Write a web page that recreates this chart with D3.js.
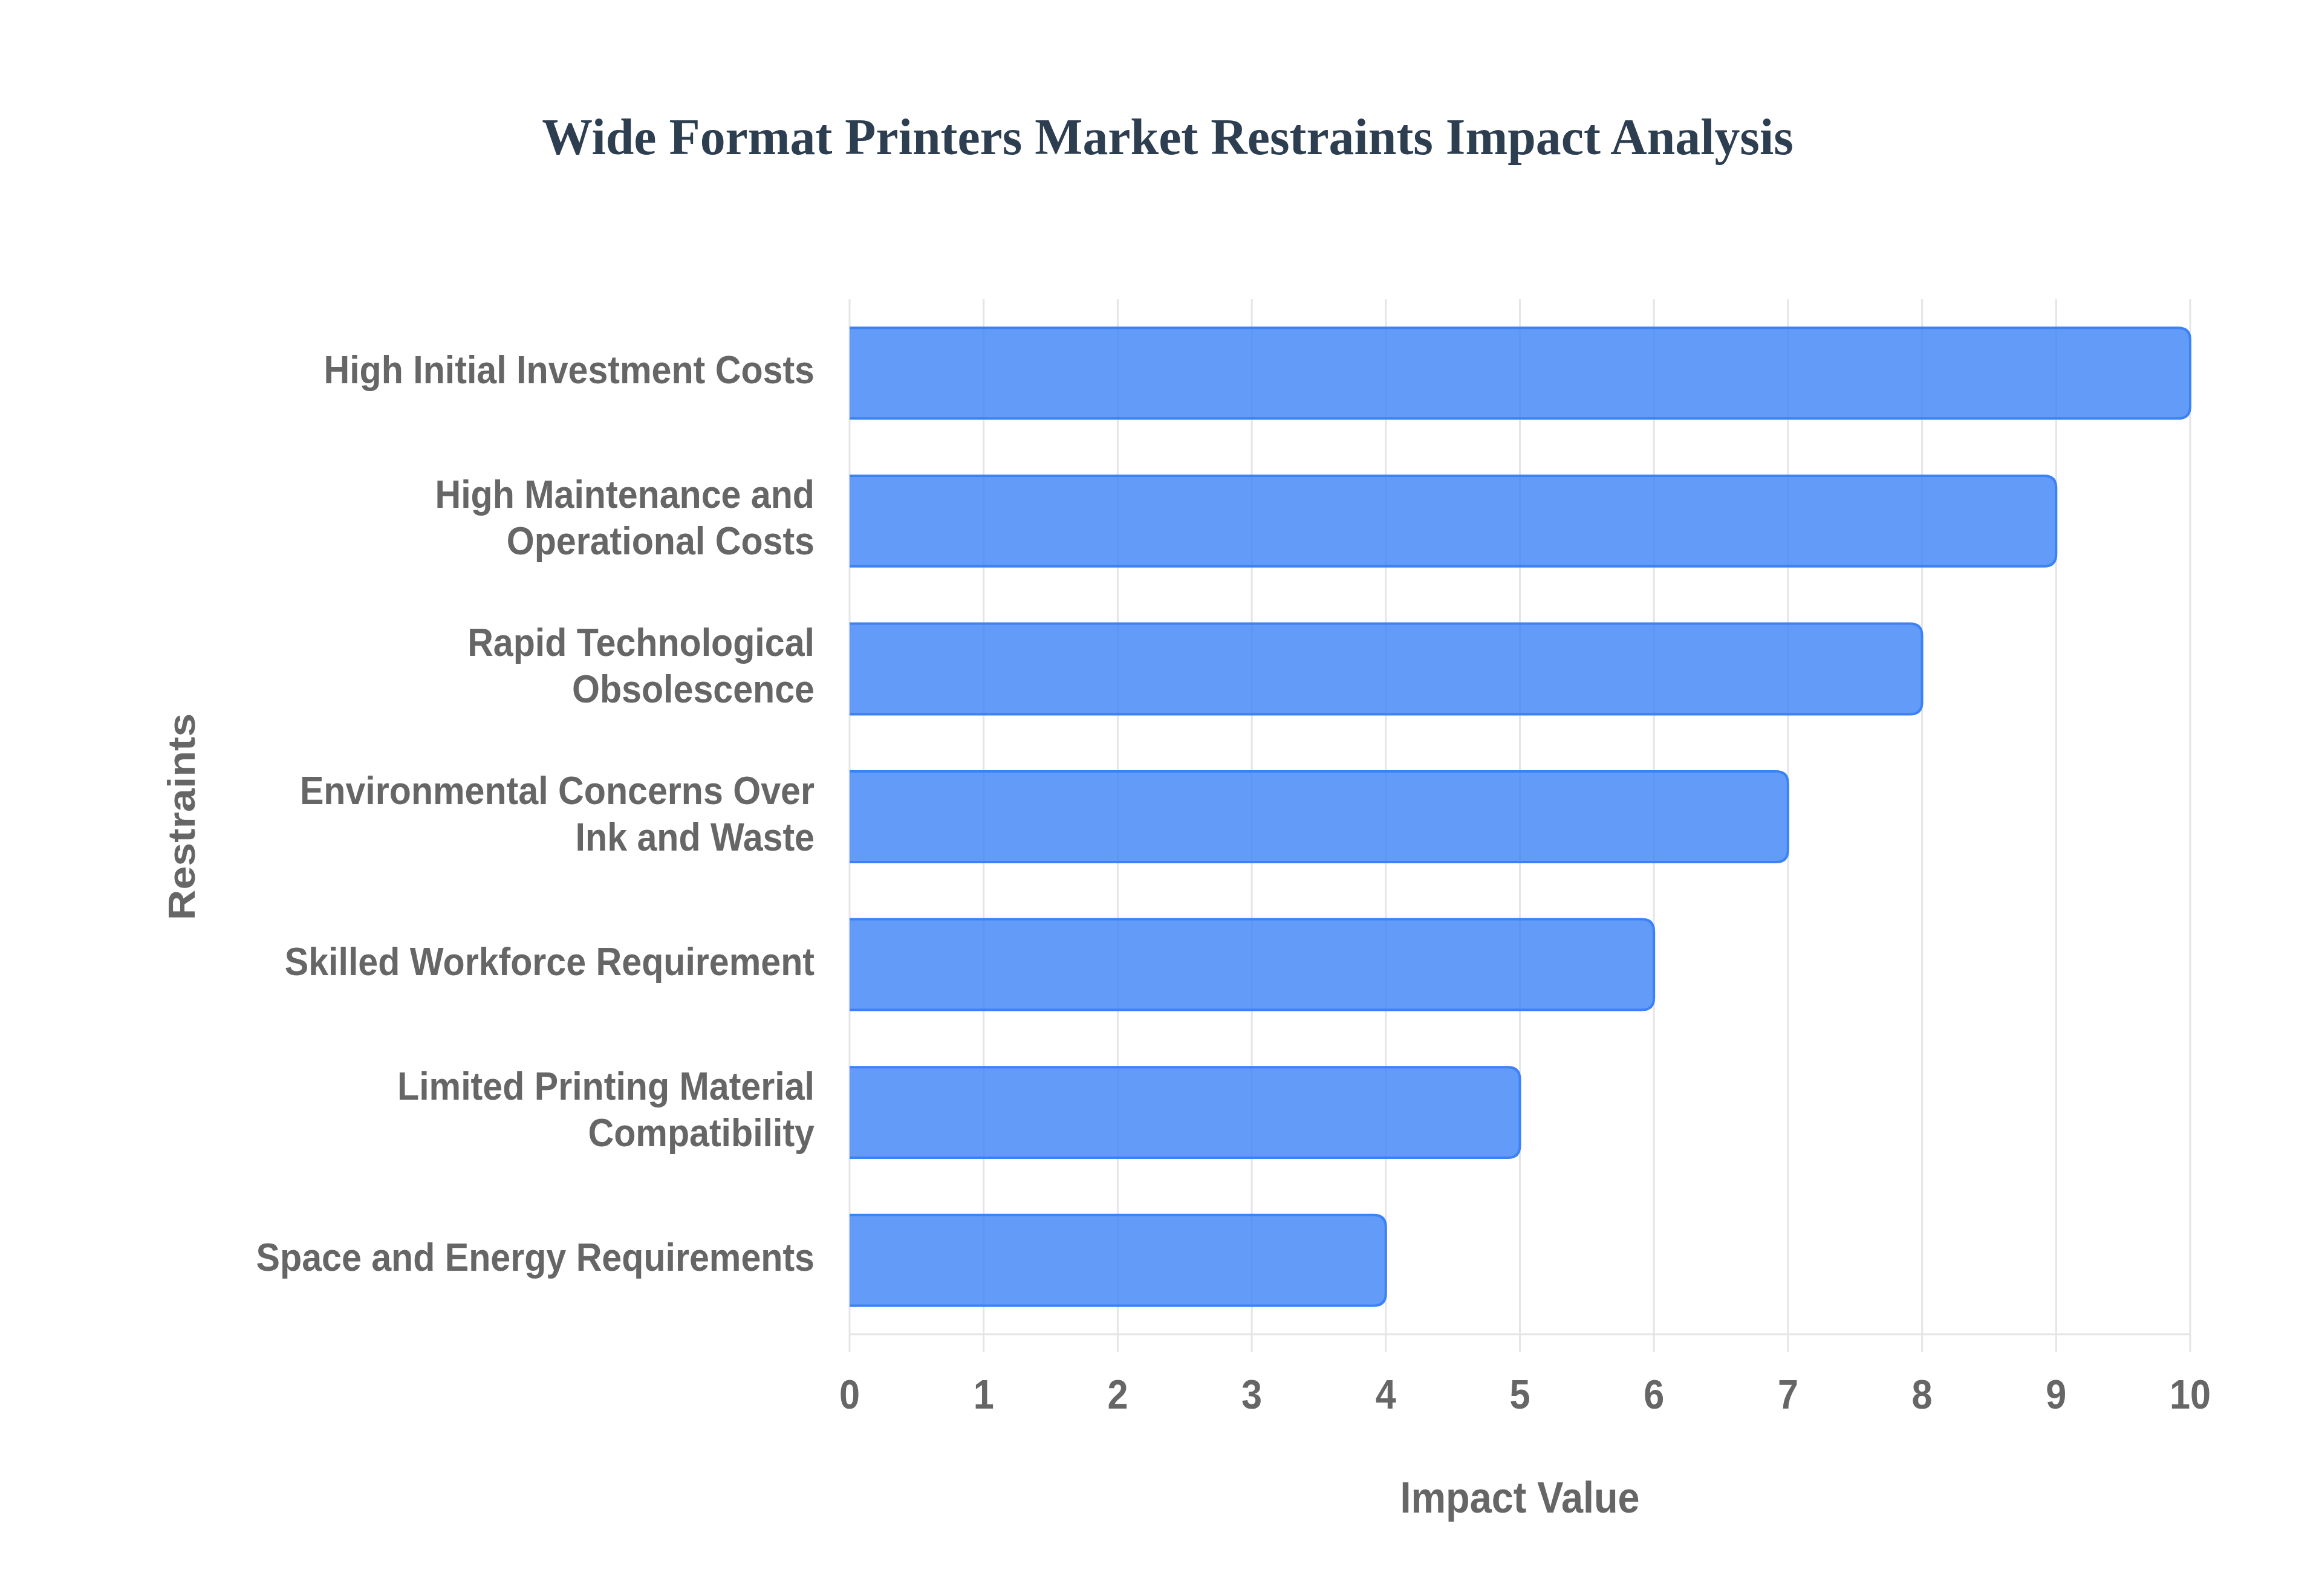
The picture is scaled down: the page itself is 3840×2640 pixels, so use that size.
<!DOCTYPE html>
<html lang="en">
<head>
    <meta charset="UTF-8">
    <title>Wide Format Printers Market Restraints Impact Analysis</title>
    <script src="https://d3js.org/d3.v7.min.js"></script>
    <style>
        html, body {
            margin: 0;
            padding: 0;
            background: #ffffff;
        }

        #chart {
            width: 3840px;
            height: 2640px;
        }

        .grid line {
            stroke: #e5e5e5;
            stroke-width: 3px;
        }

        .bar {
            fill: rgba(59, 130, 246, 0.8);
            stroke: #3b82f6;
            stroke-width: 4px;
        }

        .tick-label, .axis-title {
            font-family: "Liberation Sans", Arial, sans-serif;
            font-weight: bold;
            fill: #666666;
        }

        .title {
            font-family: "Liberation Serif", "Times New Roman", serif;
            font-weight: bold;
            fill: #2c3e50;
        }
    </style>
</head>
<body>

<div id="chart"></div>

<script>
    // restraint names, one entry per line of the label
    const restraints = [
        ["High Initial Investment Costs"],
        ["High Maintenance and", "Operational Costs"],
        ["Rapid Technological", "Obsolescence"],
        ["Environmental Concerns Over", "Ink and Waste"],
        ["Skilled Workforce Requirement"],
        ["Limited Printing Material", "Compatibility"],
        ["Space and Energy Requirements"]
    ];
    const impactValues = [10, 9, 8, 7, 6, 5, 4];
    const xTicks = [0, 1, 2, 3, 4, 5, 6, 7, 8, 9, 10];

    const chartTitle = "Wide Format Printers Market Restraints Impact Analysis";
    const xTitle = "Impact Value";
    const yTitle = "Restraints";

    const width = 3840;
    const height = 2640;
    const plot = { left: 1405, right: 3622, top: 495, bottom: 2207 };
    const squeeze = 0.9; // the sans text in the picture is a bit narrow

    const svg = d3.select("#chart").append("svg")
        .attr("width", width)
        .attr("height", height);

    const keys = restraints.map((d, i) => i);

    const x = d3.scaleLinear()
        .domain([0, 10])
        .range([plot.left, plot.right]);

    const y = d3.scaleBand()
        .domain(keys)
        .range([plot.top, plot.bottom])
        .paddingInner(0.387)
        .paddingOuter(0.387 / 2);

    // vertical grid lines, running a little below the axis as tick marks
    const grid = svg.append("g").attr("class", "grid");
    grid.selectAll(".v")
        .data(xTicks)
        .enter().append("line")
        .attr("x1", d => x(d))
        .attr("x2", d => x(d))
        .attr("y1", plot.top)
        .attr("y2", plot.bottom + 29);

    grid.append("line")
        .attr("x1", x(0))
        .attr("x2", x(10))
        .attr("y1", plot.bottom)
        .attr("y2", plot.bottom);

    // bars: flat at the base, rounded at the end, no border on the base side
    const r = 20;
    function barPath(i) {
        const x0 = x(0);
        const x1 = x(impactValues[i]);
        const y0 = y(i);
        const y1 = y(i) + y.bandwidth();
        return `M${x0},${y0} L${x1 - r},${y0} Q${x1},${y0} ${x1},${y0 + r} ` +
               `L${x1},${y1 - r} Q${x1},${y1} ${x1 - r},${y1} L${x0},${y1}`;
    }

    svg.append("g")
        .selectAll(".bar")
        .data(keys)
        .enter().append("path")
        .attr("class", "bar")
        .attr("d", d => barPath(d));

    // y tick labels, right aligned, squeezed horizontally
    const lineGap = 77;
    const yLabels = svg.append("g")
        .selectAll(".ylab")
        .data(keys)
        .enter().append("text")
        .attr("class", "tick-label")
        .attr("font-size", 65)
        .attr("text-anchor", "end")
        .attr("transform", d => {
            const cy = y(d) + y.bandwidth() / 2;
            return `translate(${plot.left - 58},${cy}) scale(0.91,1)`;
        });

    yLabels.each(function(d) {
        const lines = restraints[d];
        const first = -(lines.length - 1) / 2 * lineGap + 17;
        d3.select(this).selectAll("tspan")
            .data(lines)
            .enter().append("tspan")
            .attr("x", 0)
            .attr("y", (l, j) => first + j * lineGap)
            .text(l => l);
    });

    // x tick labels
    svg.append("g")
        .selectAll(".xlab")
        .data(xTicks)
        .enter().append("text")
        .attr("class", "tick-label")
        .attr("font-size", 68)
        .attr("text-anchor", "middle")
        .attr("transform", d => `translate(${x(d)},2330) scale(${squeeze},1)`)
        .text(d => d);

    // axis titles
    svg.append("text")
        .attr("class", "axis-title")
        .attr("font-size", 72)
        .attr("text-anchor", "middle")
        .attr("transform", `translate(${(plot.left + plot.right) / 2},2502) scale(${squeeze},1)`)
        .text(xTitle);

    svg.append("text")
        .attr("class", "axis-title")
        .attr("font-size", 70)
        .attr("text-anchor", "middle")
        .attr("transform", `translate(322,${(plot.top + plot.bottom) / 2}) scale(${squeeze},1) rotate(-90)`)
        .text(yTitle);

    // chart title
    svg.append("text")
        .attr("class", "title")
        .attr("font-size", 85)
        .attr("text-anchor", "middle")
        .attr("transform", "translate(1931,255) scale(0.986,1)")
        .text(chartTitle);
</script>

</body>
</html>
